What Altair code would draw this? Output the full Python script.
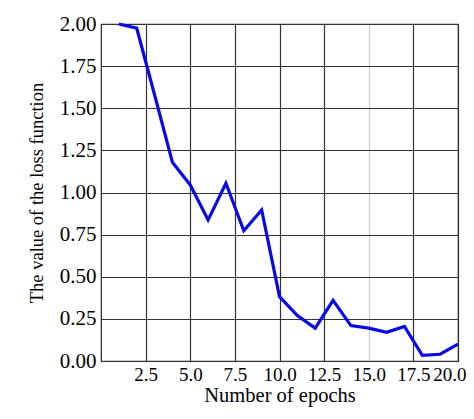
import altair as alt
import pandas as pd

epochs = list(range(1, 21))
loss = [2.00, 1.975, 1.58, 1.18, 1.045, 0.837, 1.055, 0.773, 0.896, 0.382,
        0.27, 0.195, 0.36, 0.21, 0.195, 0.17, 0.205, 0.034, 0.04, 0.10]
x_ticks = [2.5, 5.0, 7.5, 10.0, 12.5, 15.0, 17.5, 20.0]
y_ticks = [0.0, 0.25, 0.5, 0.75, 1.0, 1.25, 1.5, 1.75, 2.0]

df = pd.DataFrame({"epoch": epochs, "loss": loss})

font = "Liberation Serif"

chart = alt.Chart(df).mark_line(color="#0a0ae6", strokeWidth=3.2).encode(
    x=alt.X("epoch:Q", title="Number of epochs",
            scale=alt.Scale(domain=[0, 20], nice=False, zero=False),
            axis=alt.Axis(values=x_ticks, format=".1f", ticks=False, labelOverlap=False,
                          labelFlush=True, labelFlushOffset=8, labelBound=False,
                          labelFontSize=19,
                          gridColor=alt.condition("datum.value == 15", alt.value("#cccccc"), alt.value("#333333")),
                          labelPadding=4, titlePadding=1, titleFontSize=20.5)),
    y=alt.Y("loss:Q", title="The value of the loss function",
            scale=alt.Scale(domain=[0, 2], nice=False),
            axis=alt.Axis(values=y_ticks, format=".2f", ticks=False, labelOverlap=False,
                          labelFlush=False, labelBound=False, labelFontSize=21,
                          gridColor="#333333", labelPadding=5, titlePadding=13, titleFontSize=18.5)),
).properties(
    width=357, height=337,
    autosize=alt.AutoSizeParams(type="none"),
    padding={"left": 93, "top": 16, "right": 8, "bottom": 50},
).configure_axis(
    labelFont=font, titleFont=font,
    labelColor="black", titleColor="black", titleFontWeight="normal",
    domainColor="#333333", gridOpacity=1, gridWidth=1.2,
).configure_view(
    stroke="#333333", strokeWidth=1.2
)

chart.save("out.html", embed_options={"renderer": "svg", "actions": False})
